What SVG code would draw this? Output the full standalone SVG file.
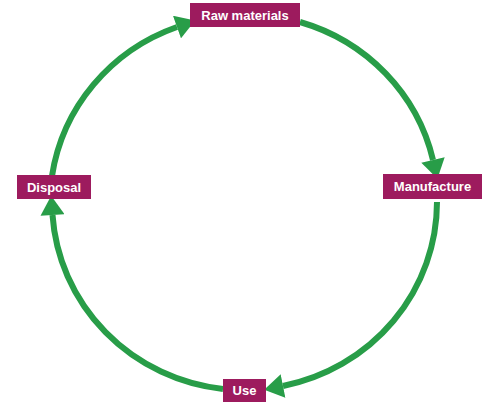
<svg xmlns="http://www.w3.org/2000/svg" width="491" height="408" viewBox="0 0 491 408">
<style>
.c{fill:none;stroke:#289d48;stroke-width:6}
.b{fill:#9d1b5e}
.t{font-family:"Liberation Sans",Arial,sans-serif;font-weight:bold;font-size:13px;fill:#fff;text-anchor:middle}
</style>
<defs>
<marker id="a" markerUnits="userSpaceOnUse" markerWidth="20" markerHeight="24" refX="0" refY="10" orient="auto" viewBox="0 0 16 20">
<path d="M0,0 L16,10 L0,20 z" fill="#289d48"/>
</marker>
</defs>
<g id="connectors">
<path class="c" marker-end="url(#a)" d="M300,22 A192.5,188 0 0 1 433,160"/>
<path class="c" marker-end="url(#a)" d="M437,202 A192.5,188 0 0 1 283,386"/>
<path class="c" marker-end="url(#a)" d="M223,389 A192.5,188 0 0 1 52.5,215"/>
<path class="c" marker-end="url(#a)" d="M52,176 A192.5,188 0 0 1 177,27"/>
</g>
<g id="raw"><rect class="b" x="190" y="3" width="110" height="24"/><text class="t" x="245" y="20">Raw materials</text></g>
<g id="manufacture"><rect class="b" x="383" y="174" width="99" height="25"/><text class="t" x="432.5" y="191">Manufacture</text></g>
<g id="use"><rect class="b" x="223" y="379" width="43" height="23"/><text class="t" x="244.5" y="395">Use</text></g>
<g id="disposal"><rect class="b" x="17" y="175" width="74" height="24"/><text class="t" x="54" y="192">Disposal</text></g>
</svg>
